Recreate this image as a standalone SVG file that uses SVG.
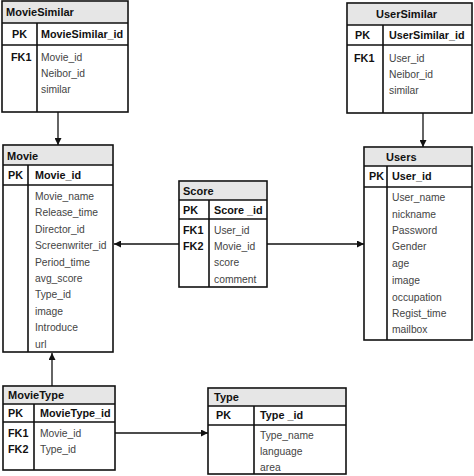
<svg xmlns="http://www.w3.org/2000/svg" width="474" height="476" viewBox="0 0 474 476">
<style>
text{font-family:"Liberation Sans","Noto Sans",Arial,sans-serif;font-size:11px;fill:#111}
.t{font-weight:bold}
.k{font-weight:bold;font-size:10.8px}
.a{fill:#444;font-size:10.3px}
.box{fill:#fff;stroke:#111;stroke-width:1.6}
.hd{fill:#e6e6e6;stroke:none}
.ln{stroke:#111;stroke-width:1.6;fill:none}
.c{stroke:#111;stroke-width:1.3;fill:none}
</style>
<defs>
<marker id="ar" viewBox="0 0 8 8" refX="8" refY="4" markerWidth="7" markerHeight="7" markerUnits="userSpaceOnUse" orient="auto">
<path d="M0,0 L8,4 L0,8 z" fill="#111"/>
</marker>
</defs>
<rect width="474" height="476" fill="#fff"/>

<g id="connectors">
<line class="c" x1="58" y1="112" x2="58" y2="145" marker-end="url(#ar)"/>
<line class="c" x1="423" y1="113" x2="423" y2="147" marker-end="url(#ar)"/>
<line class="c" x1="179" y1="244" x2="114" y2="244" marker-end="url(#ar)"/>
<line class="c" x1="267" y1="244" x2="364" y2="244" marker-end="url(#ar)"/>
<line class="c" x1="52" y1="386" x2="52" y2="353" marker-end="url(#ar)"/>
<line class="c" x1="115" y1="433" x2="208" y2="433" marker-end="url(#ar)"/>
</g>

<g id="MovieSimilar">
<rect class="box" x="2" y="1" width="126" height="111"/>
<rect class="hd" x="3" y="2" width="124" height="21"/>
<path class="ln" d="M2,23H128M2,45H128M37,23V112"/>
<text class="t" x="6" y="16">MovieSimilar</text>
<text class="k" x="12" y="38">PK</text>
<text class="k" x="41" y="38">MovieSimilar_id</text>
<text class="k" x="11" y="61">FK1</text>
<text class="a" x="41" y="61">Movie_id</text>
<text class="a" x="41" y="77">Neibor_id</text>
<text class="a" x="41" y="93">similar</text>
</g>

<g id="UserSimilar">
<rect class="box" x="347" y="3" width="125" height="110"/>
<rect class="hd" x="348" y="4" width="123" height="21"/>
<path class="ln" d="M347,25H472M347,45H472M383,25V113"/>
<text class="t" x="376" y="18">UserSimilar</text>
<text class="k" x="355" y="39">PK</text>
<text class="k" x="389" y="39">UserSimilar_id</text>
<text class="k" x="354" y="62">FK1</text>
<text class="a" x="389" y="62">User_id</text>
<text class="a" x="389" y="78">Neibor_id</text>
<text class="a" x="389" y="94">similar</text>
</g>

<g id="Movie">
<rect class="box" x="3" y="145" width="110" height="207"/>
<rect class="hd" x="4" y="146" width="108" height="19"/>
<path class="ln" d="M3,165H113M3,185H113M28,165V352"/>
<text class="t" x="7" y="160">Movie</text>
<text class="k" x="8" y="179">PK</text>
<text class="k" x="35" y="179">Movie_id</text>
<text class="a" x="35" y="200">Movie_name</text>
<text class="a" x="35" y="216.4">Release_time</text>
<text class="a" x="35" y="232.8">Director_id</text>
<text class="a" x="35" y="249.2">Screenwriter_id</text>
<text class="a" x="35" y="265.6">Period_time</text>
<text class="a" x="35" y="282">avg_score</text>
<text class="a" x="35" y="298.4">Type_id</text>
<text class="a" x="35" y="314.8">image</text>
<text class="a" x="35" y="331.2">Introduce</text>
<text class="a" x="35" y="347.6">url</text>
</g>

<g id="Score">
<rect class="box" x="179" y="181" width="88" height="106"/>
<rect class="hd" x="180" y="182" width="86" height="18"/>
<path class="ln" d="M179,200H267M179,219H267M209,200V287"/>
<text class="t" x="183" y="195">Score</text>
<text class="k" x="183" y="214">PK</text>
<text class="k" x="214" y="214">Score _id</text>
<text class="k" x="183" y="234">FK1</text>
<text class="k" x="183" y="250">FK2</text>
<text class="a" x="214" y="234">User_id</text>
<text class="a" x="214" y="250">Movie_id</text>
<text class="a" x="214" y="266">score</text>
<text class="a" x="214" y="283">comment</text>
</g>

<g id="Users">
<rect class="box" x="364" y="147" width="108" height="193"/>
<rect class="hd" x="365" y="148" width="106" height="18"/>
<path class="ln" d="M364,166H472M364,187H472M387,166V340"/>
<text class="t" x="386" y="161">Users</text>
<text class="k" x="369" y="180">PK</text>
<text class="k" x="392" y="180">User_id</text>
<text class="a" x="392" y="201">User_name</text>
<text class="a" x="392" y="218">nickname</text>
<text class="a" x="392" y="234">Password</text>
<text class="a" x="392" y="250">Gender</text>
<text class="a" x="392" y="267">age</text>
<text class="a" x="392" y="284">image</text>
<text class="a" x="392" y="301">occupation</text>
<text class="a" x="392" y="317">Regist_time</text>
<text class="a" x="392" y="333">mailbox</text>
</g>

<g id="MovieType">
<rect class="box" x="3" y="386" width="112" height="84"/>
<rect class="hd" x="4" y="387" width="110" height="17"/>
<path class="ln" d="M3,404H115M3,422H115M34,404V470"/>
<text class="t" x="8" y="399">MovieType</text>
<text class="k" x="8" y="417">PK</text>
<text class="k" x="40" y="417">MovieType_id</text>
<text class="k" x="8" y="437">FK1</text>
<text class="k" x="8" y="453">FK2</text>
<text class="a" x="40" y="437">Movie_id</text>
<text class="a" x="40" y="453">Type_id</text>
</g>

<g id="Type">
<rect class="box" x="208" y="388" width="138" height="86"/>
<rect class="hd" x="209" y="389" width="136" height="17"/>
<path class="ln" d="M208,406H346M208,425H346M254,406V474"/>
<text class="t" x="214" y="401">Type</text>
<text class="k" x="216" y="419">PK</text>
<text class="k" x="260" y="419">Type _id</text>
<text class="a" x="260" y="439">Type_name</text>
<text class="a" x="260" y="455">language</text>
<text class="a" x="260" y="471">area</text>
</g>
</svg>
